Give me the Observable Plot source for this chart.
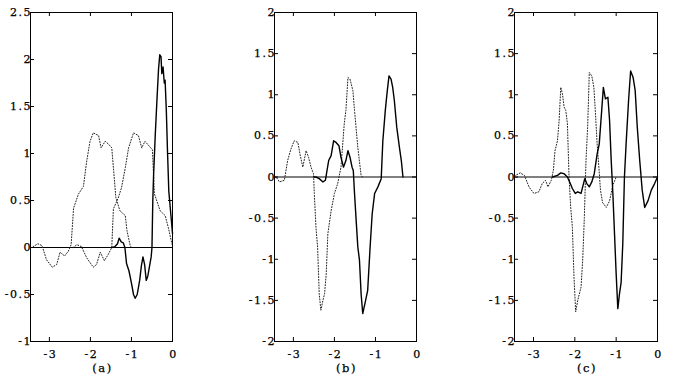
<!DOCTYPE html>
<html><head><meta charset="utf-8">
<script src="https://cdn.jsdelivr.net/npm/d3@7"></script>
<script src="https://cdn.jsdelivr.net/npm/@observablehq/plot@0.6"></script>
<style>
html,body{margin:0;padding:0;background:#fff;}
#wrap{position:relative;width:673px;height:389px;overflow:hidden;background:#fff;}
#wrap svg{position:absolute;top:0;}
#wrap svg text{font-family:'DejaVu Serif','Liberation Serif',serif;letter-spacing:1.5px;fill:#000;stroke:#000;stroke-width:0.25px;}
</style></head><body><div id="wrap"></div>
<script>
// tick labels
const xTicks = [-3, -2, -1, 0];
const yTicksA = [-1, -0.5, 0, 0.5, 1, 1.5, 2, 2.5];
const yTicksBC = [-2, -1.5, -1, -0.5, 0, 0.5, 1, 1.5, 2];
const panelLabels = ["(a)", "(b)", "(c)"];
const xDomain = [-3.46, 0];

// panel (a)
const aDot1X = [-3.46,-3.43,-3.28,-3.18,-3.07,-2.93,-2.82,-2.74,-2.63,-2.54,-2.47,-2.41,-2.29,-2.17,-2.09,-2.01,-1.93,-1.80,-1.74,-1.64,-1.56,-1.48,-1.44,-1.38,-1.28,-1.15,-1.11,-1.03,-1.0];
const aDot1Y = [0,0,0.04,0.02,-0.13,-0.21,-0.18,-0.05,-0.09,-0.04,0.03,0.42,0.57,0.65,0.92,1.13,1.22,1.19,1.06,1.13,1.10,1.06,0.85,0.53,0.39,0.34,0.18,0.02,0];
const aDot2X = [-2.42,-2.33,-2.22,-2.09,-1.93,-1.85,-1.76,-1.66,-1.56,-1.48,-1.44,-1.32,-1.24,-1.15,-1.07,-0.95,-0.83,-0.75,-0.67,-0.57,-0.49,-0.44,-0.30,-0.18,-0.10,-0.02,0];
const aDot2Y = [0,0.03,0.01,-0.11,-0.21,-0.18,-0.05,-0.14,-0.07,0,0.41,0.53,0.64,0.85,1.06,1.22,1.19,1.06,1.13,1.08,1.04,0.57,0.39,0.34,0.21,0.05,0.02];
const aSolidX = [-1.48,-1.40,-1.34,-1.30,-1.25,-1.20,-1.16,-1.12,-1.06,-1.00,-0.95,-0.91,-0.86,-0.80,-0.76,-0.72,-0.68,-0.64,-0.60,-0.56,-0.52,-0.50,-0.48,-0.46,-0.42,-0.38,-0.34,-0.31,-0.28,-0.26,-0.23,-0.20,-0.18,-0.15,-0.12,-0.09,-0.06,-0.03,0];
const aSolidY = [0,0.01,0.04,0.1,0.06,0.05,0.0,-0.17,-0.25,-0.38,-0.5,-0.54,-0.5,-0.35,-0.2,-0.1,-0.18,-0.35,-0.3,-0.2,-0.1,0,0.5,0.78,1.2,1.56,1.9,2.05,2.03,1.85,1.92,1.75,1.78,1.45,1.0,0.6,0.45,0.3,0.15];

// panel (b)
const bDotX = [-3.46,-3.42,-3.34,-3.22,-3.14,-3.06,-2.98,-2.89,-2.84,-2.77,-2.69,-2.63,-2.57,-2.51,-2.49,-2.45,-2.41,-2.37,-2.33,-2.28,-2.24,-2.20,-2.16,-2.08,-2.00,-1.92,-1.84,-1.76,-1.72,-1.67,-1.62,-1.55,-1.51,-1.43,-1.35,-1.32];
const bDotY = [0,0,-0.06,-0.04,0.2,0.34,0.44,0.42,0.28,0.12,0.32,0.24,0.12,0.04,-0.2,-0.61,-0.85,-1.42,-1.62,-1.5,-1.42,-1.18,-0.69,-0.41,-0.2,-0.08,0.12,0.65,0.81,1.21,1.19,1.05,0.81,0.36,0.02,0];
const bSolidX = [-2.50,-2.45,-2.37,-2.28,-2.22,-2.18,-2.14,-2.08,-2.02,-1.96,-1.89,-1.84,-1.78,-1.72,-1.67,-1.62,-1.57,-1.54,-1.51,-1.47,-1.43,-1.39,-1.35,-1.31,-1.24,-1.19,-1.13,-1.08,-1.02,-0.94,-0.86,-0.82,-0.76,-0.72,-0.67,-0.62,-0.58,-0.54,-0.48,-0.41,-0.37,-0.33];
const bSolidY = [0,0,-0.02,-0.06,-0.04,0.08,0.2,0.26,0.44,0.42,0.38,0.24,0.12,0.2,0.32,0.24,0.12,0.08,-0.2,-0.53,-0.85,-1.01,-1.42,-1.66,-1.5,-1.38,-0.85,-0.45,-0.2,-0.12,-0.02,0.44,0.81,1.01,1.23,1.19,1.09,0.93,0.6,0.34,0.2,0];

// panel (c)
const cDotX = [-3.46,-3.44,-3.32,-3.22,-3.11,-2.99,-2.87,-2.79,-2.71,-2.65,-2.57,-2.52,-2.48,-2.42,-2.38,-2.34,-2.30,-2.26,-2.22,-2.18,-2.14,-2.10,-2.06,-2.02,-1.98,-1.93,-1.85,-1.81,-1.77,-1.73,-1.69,-1.65,-1.59,-1.54,-1.51,-1.46,-1.43,-1.38,-1.33,-1.24,-1.16,-1.08,-1.0];
const cDotY = [0.01,0.02,0.05,0.02,-0.12,-0.2,-0.18,-0.08,-0.04,-0.12,-0.04,0.08,0.32,0.44,0.69,1.09,1.01,0.85,0.81,0.65,0,-0.37,-0.61,-1.22,-1.64,-1.5,-1.34,-1.01,-0.49,0.2,0.61,1.27,1.23,1.09,0.85,0.4,0.2,-0.16,-0.31,-0.37,-0.29,-0.1,0];
const cSolidX = [-2.54,-2.42,-2.34,-2.26,-2.18,-2.11,-2.06,-1.99,-1.93,-1.85,-1.81,-1.76,-1.71,-1.65,-1.59,-1.53,-1.46,-1.41,-1.35,-1.31,-1.26,-1.20,-1.16,-1.12,-1.08,-1.04,-1.00,-0.96,-0.92,-0.88,-0.84,-0.80,-0.76,-0.70,-0.65,-0.59,-0.54,-0.49,-0.43,-0.37,-0.31,-0.23,-0.15,-0.07,0];
const cSolidY = [0,0.02,0.05,0.04,0,-0.08,-0.14,-0.2,-0.18,-0.2,-0.12,-0.02,-0.08,-0.12,-0.06,0.04,0.28,0.4,0.81,1.09,0.95,0.97,0.69,0.2,-0.2,-0.69,-1.18,-1.6,-1.42,-1.28,-0.81,0,0.4,0.93,1.29,1.21,1.05,0.61,0.2,-0.16,-0.37,-0.29,-0.16,-0.08,0];

const pts = (xs, ys) => xs.map((x, i) => ({x, y: ys[i]}));

const H = 389, MT = 12, MB = 48, ML = 30, MR = 10;
const frameH = H - MT - MB;

function panel({left, width, yDomain, yTicks, solid, dotted, label}) {
  const fmt = d => String(d);
  const p = Plot.plot({
    width: ML + width + MR, height: H,
    marginLeft: ML, marginRight: MR, marginTop: MT, marginBottom: MB,
    x: {domain: xDomain},
    y: {domain: yDomain},
    style: {fontSize: "11px", color: "#000", background: "transparent"},
    marks: [
      Plot.ruleY([0], {stroke: "#000", strokeWidth: 1}),
      ...dotted.map(d => Plot.line(d, {x: "x", y: "y", stroke: "#222", strokeWidth: 1, strokeDasharray: "1,1.8"})),
      Plot.line(solid, {x: "x", y: "y", stroke: "#000", strokeWidth: 1.4}),
      Plot.frame({stroke: "#000", strokeWidth: 1}),
      // inward ticks on all four sides
      Plot.tickX(xTicks, {x: d => d, stroke: "#000", insetTop: frameH - 4}),
      Plot.tickX(xTicks, {x: d => d, stroke: "#000", insetBottom: frameH - 4}),
      Plot.tickY(yTicks, {y: d => d, stroke: "#000", insetRight: width - 4}),
      Plot.tickY(yTicks, {y: d => d, stroke: "#000", insetLeft: width - 4}),
      Plot.axisX({anchor: "bottom", ticks: xTicks, tickSize: 0, tickPadding: 9, dx: 1, tickFormat: fmt, label: null, fontSize: 11}),
      Plot.axisY({anchor: "left", ticks: yTicks, tickSize: 0, tickPadding: 0, dx: 1.5, tickFormat: fmt, label: null, fontSize: 11}),
      Plot.text([label], {frameAnchor: "bottom", dy: 30, dx: 1, text: d => d, fontSize: 11.5})
    ]
  });
  p.style.left = (left - ML) + "px";
  document.getElementById("wrap").appendChild(p);
}

panel({left: 30, width: 142, yDomain: [-1, 2.5], yTicks: yTicksA,
  solid: pts(aSolidX, aSolidY), dotted: [pts(aDot1X, aDot1Y), pts(aDot2X, aDot2Y)], label: panelLabels[0]});
panel({left: 274, width: 142, yDomain: [-2, 2], yTicks: yTicksBC,
  solid: pts(bSolidX, bSolidY), dotted: [pts(bDotX, bDotY)], label: panelLabels[1]});
panel({left: 514, width: 143, yDomain: [-2, 2], yTicks: yTicksBC,
  solid: pts(cSolidX, cSolidY), dotted: [pts(cDotX, cDotY)], label: panelLabels[2]});
</script>
</body></html>
